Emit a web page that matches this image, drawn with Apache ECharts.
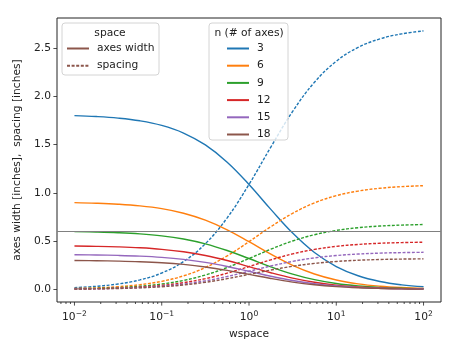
<!DOCTYPE html>
<html>
<head>
<meta charset="utf-8">
<script src="https://cdn.jsdelivr.net/npm/echarts@6/dist/echarts.min.js"></script>
<style>
  html, body { margin: 0; padding: 0; background: #fff; }
  #chart { width: 474px; height: 343px; }
</style>
</head>
<body>
<div id="chart"></div>
<script>
// wspace sample points (log-spaced, quarter decades)
const wspace = [0.01, 0.017783, 0.031623, 0.056234, 0.1, 0.17783, 0.31623, 0.56234,
                1, 1.7783, 3.1623, 5.6234, 10, 17.783, 31.623, 56.234, 100];

const nAxes = ['3', '6', '9', '12', '15', '18'];
const colors = ['#1f77b4', '#ff7f0e', '#2ca02c', '#d62728', '#9467bd', '#8c564b'];

// axes width [inches] for each n
const width3  = [1.8013, 1.7921, 1.7759, 1.7478, 1.7000, 1.6211, 1.4976, 1.3189, 1.0880, 0.8297, 0.5834, 0.3818, 0.2365, 0.14106, 0.08212, 0.04711, 0.02680];
const width6  = [0.89917, 0.89343, 0.88339, 0.86608, 0.83692, 0.78965, 0.71757, 0.61736, 0.49455, 0.36531, 0.24941, 0.15945, 0.09714, 0.05731, 0.03315, 0.018944, 0.010751];
const width9  = [0.59912, 0.59504, 0.58792, 0.57567, 0.55510, 0.52194, 0.47182, 0.40300, 0.32000, 0.23422, 0.15861, 0.10076, 0.061124, 0.035964, 0.020765, 0.011855, 0.0067244];
const width12 = [0.44922, 0.44606, 0.44056, 0.43111, 0.41527, 0.38979, 0.35146, 0.29914, 0.23652, 0.17236, 0.11628, 0.073655, 0.04459, 0.026203, 0.015117, 0.008627, 0.0048921];
const width15 = [0.35931, 0.35675, 0.35227, 0.34458, 0.33171, 0.31104, 0.28002, 0.23784, 0.18759, 0.13635, 0.09178, 0.05804, 0.035097, 0.020609, 0.011885, 0.006781, 0.0038445];
const width18 = [0.29939, 0.29723, 0.29346, 0.28698, 0.27614, 0.25876, 0.23272, 0.19739, 0.15543, 0.11279, 0.075809, 0.047889, 0.028936, 0.016983, 0.0097914, 0.0055853, 0.0031665];

// spacing between axes [inches] for each n
const space3  = [0.0180, 0.03187, 0.05616, 0.09829, 0.1700, 0.28829, 0.47359, 0.74166, 1.0880, 1.47546, 1.84489, 2.14724, 2.3652, 2.50847, 2.59682, 2.64935, 2.6798];
const space6  = [0.00899, 0.01589, 0.02794, 0.04870, 0.08369, 0.14042, 0.22692, 0.34717, 0.49455, 0.64963, 0.78872, 0.89666, 0.97143, 1.01924, 1.04823, 1.06528, 1.07510];
const space9  = [0.00599, 0.01058, 0.01859, 0.03237, 0.05551, 0.09282, 0.14920, 0.22662, 0.32000, 0.41651, 0.50157, 0.56663, 0.61124, 0.63955, 0.65663, 0.66666, 0.67244];
const space12 = [0.00449, 0.00793, 0.01393, 0.02424, 0.04153, 0.06932, 0.11114, 0.16822, 0.23652, 0.30651, 0.36770, 0.41419, 0.44590, 0.46595, 0.47805, 0.48513, 0.48921];
const space15 = [0.00359, 0.00634, 0.01114, 0.01938, 0.03317, 0.05531, 0.08855, 0.13375, 0.18759, 0.24247, 0.29024, 0.32638, 0.35097, 0.36649, 0.37584, 0.38130, 0.38445];
const space18 = [0.00299, 0.00529, 0.00928, 0.01614, 0.02761, 0.04602, 0.07359, 0.11100, 0.15543, 0.20058, 0.23973, 0.26930, 0.28936, 0.30201, 0.30963, 0.31408, 0.31665];

const widths = [width3, width6, width9, width12, width15, width18];
const spaces = [space3, space6, space9, space12, space15, space18];

const refLine = 0.6;

const xMin = Math.pow(10, -2.2), xMax = Math.pow(10, 2.2);
const yMin = -0.1308, yMax = 2.8136;

const yTicks = [0, 0.5, 1.0, 1.5, 2.0, 2.5];
const xMajorTicks = [0.01, 0.1, 1, 10, 100];
const xMinorTicks = [];
[0.001, 0.01, 0.1, 1, 10, 100].forEach(d => {
  for (let k = 2; k <= 9; k++) {
    const v = d * k;
    if (v > xMin && v < xMax) xMinorTicks.push(v);
  }
});

const FONT = 'DejaVu Sans';
const FS = 10.7;
const INK = '#222';
const LW = 1.4;
const DASH = [3, 1.6];

const series = [];
widths.forEach((arr, i) => {
  series.push({
    name: nAxes[i], type: 'line', showSymbol: false, symbol: 'none',
    smooth: 0.4,
    data: wspace.map((w, j) => [w, arr[j]]),
    lineStyle: { color: colors[i], width: LW },
    itemStyle: { color: colors[i] },
    z: 3, silent: true, animation: false
  });
  series.push({
    name: nAxes[i] + ' spacing', type: 'line', showSymbol: false, symbol: 'none',
    smooth: 0.4,
    data: wspace.map((w, j) => [w, spaces[i][j]]),
    lineStyle: { color: colors[i], width: LW, type: DASH },
    itemStyle: { color: colors[i] },
    z: 3, silent: true, animation: false
  });
});

// legend-only entries for the line style key
series.push({
  name: 'axes width', type: 'line', symbol: 'none', data: [],
  lineStyle: { color: '#8c564b', width: LW }, itemStyle: { color: '#8c564b' }
});
series.push({
  name: 'spacing', type: 'line', symbol: 'none', data: [],
  lineStyle: { color: '#8c564b', width: LW, type: DASH }, itemStyle: { color: '#8c564b' }
});

// horizontal reference line
series.push({
  name: 'ref', type: 'line', symbol: 'none', data: [], silent: true,
  markLine: {
    silent: true, symbol: ['none', 'none'], label: { show: false },
    lineStyle: { color: '#808080', width: 1, type: 'solid' },
    data: [{ yAxis: refLine }], animation: false
  },
  z: 2
});

// x-axis tick marks (major and minor) drawn below the plot frame
function tickSeries(values, len) {
  return {
    type: 'custom', silent: true, clip: false, animation: false,
    data: values.map(v => [v, yMin]),
    renderItem: function (params, api) {
      const p = api.coord([api.value(0), api.value(1)]);
      return {
        type: 'line',
        shape: { x1: p[0], y1: p[1], x2: p[0], y2: p[1] + len },
        style: { stroke: INK, lineWidth: 0.8 }
      };
    },
    z: 5
  };
}
series.push(tickSeries(xMajorTicks, 3.6));
series.push(tickSeries(xMinorTicks, 2));

const legendCommon = {
  orient: 'vertical',
  itemWidth: 22, itemHeight: 10, itemGap: 6.2, padding: 0,
  selectedMode: false, z: 8,
  itemStyle: { color: 'transparent', borderColor: 'transparent', borderWidth: 0 },
  textStyle: { fontFamily: FONT, fontSize: FS, color: INK, lineHeight: 10, padding: [0, 0, 0, 3] }
};

const option = {
  animation: false,
  backgroundColor: '#fff',
  grid: {
    left: 57, right: 33, top: 18, bottom: 41,
    show: true, borderColor: INK, borderWidth: 1, backgroundColor: 'transparent',
    outerBoundsMode: 'none', containLabel: false
  },
  xAxis: {
    type: 'log', logBase: 10, min: xMin, max: xMax,
    name: 'wspace', nameLocation: 'middle', nameGap: 27,
    nameTextStyle: { fontFamily: FONT, fontSize: FS, color: INK },
    axisLine: { show: false },
    axisTick: { show: false },
    splitLine: { show: false },
    minorTick: { show: false },
    axisLabel: {
      showMinLabel: false, showMaxLabel: false, margin: 8,
      formatter: function (v) {
        const e = Math.round(Math.log10(v));
        return '{b|10}{s|' + (e < 0 ? '\u2212' : '') + Math.abs(e) + '}';
      },
      rich: {
        b: { fontFamily: FONT, fontSize: FS, color: INK },
        s: { fontFamily: FONT, fontSize: 7.6, color: INK, padding: [0, 0, 7, 0] }
      }
    }
  },
  yAxis: {
    type: 'value', min: yMin, max: yMax,
    name: 'axes width [inches],  spacing [inches]', nameLocation: 'middle', nameGap: 25,
    nameTextStyle: { fontFamily: FONT, fontSize: FS, color: INK },
    axisLine: { show: false },
    axisTick: { show: true, length: 3.6, lineStyle: { color: INK, width: 0.8 }, customValues: yTicks },
    splitLine: { show: false },
    axisLabel: {
      customValues: yTicks, margin: 6,
      fontFamily: FONT, fontSize: FS, color: INK,
      formatter: v => v.toFixed(1)
    }
  },
  legend: [
    Object.assign({}, legendCommon, {
      left: 66, top: 43,
      data: ['axes width', 'spacing']
    }),
    Object.assign({}, legendCommon, {
      left: 226, top: 43,
      data: nAxes
    })
  ],
  graphic: [
    { type: 'rect', shape: { x: 62, y: 23, width: 97, height: 52, r: 3 },
      style: { fill: 'rgba(255,255,255,0.8)', stroke: '#d4d4d4', lineWidth: 1 }, z: 4 },
    { type: 'rect', shape: { x: 209, y: 23, width: 79, height: 117, r: 3 },
      style: { fill: 'rgba(255,255,255,0.8)', stroke: '#d4d4d4', lineWidth: 1 }, z: 4 },
    { type: 'text', x: 110, y: 33, z: 9,
      style: { text: 'space', fontFamily: FONT, fontSize: FS, fill: INK, align: 'center', verticalAlign: 'middle' } },
    { type: 'text', x: 249, y: 33, z: 9,
      style: { text: 'n (# of axes)', fontFamily: FONT, fontSize: FS, fill: INK, align: 'center', verticalAlign: 'middle' } }
  ],
  series: series
};

const chart = echarts.init(document.getElementById('chart'), null, { renderer: 'canvas' });
chart.setOption(option);
</script>
</body>
</html>
